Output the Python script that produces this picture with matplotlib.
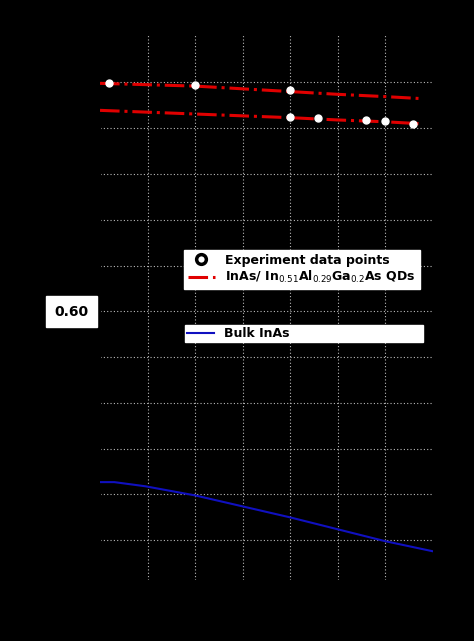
import matplotlib
matplotlib.use("Agg")
import matplotlib.pyplot as plt
from matplotlib.lines import Line2D

# values in grid units (x grid every 1, y grid every 1)
qd_upper_x = [0.0, 1.0, 2.0, 3.0, 4.0, 5.0, 6.0, 6.7]
qd_upper_y = [10.98, 10.95, 10.92, 10.86, 10.8, 10.74, 10.69, 10.65]
qd_lower_x = [0.0, 1.0, 2.0, 3.0, 4.0, 5.0, 6.0, 6.7]
qd_lower_y = [10.39, 10.35, 10.31, 10.27, 10.23, 10.18, 10.14, 10.1]
exp_x = [0.19, 2.0, 4.0, 4.0, 4.59, 5.6, 6.0, 6.58]
exp_y = [10.98, 10.95, 10.84, 10.24, 10.22, 10.18, 10.15, 10.1]
bulk_x = [0.0, 0.3, 0.95, 2.0, 3.0, 4.0, 5.0, 6.0, 7.0]
bulk_y = [2.27, 2.27, 2.18, 1.98, 1.74, 1.5, 1.24, 0.98, 0.76]

fig = plt.figure(figsize=(4.74, 6.41), dpi=100, facecolor="black")
ax = fig.add_axes([0.211, 0.095, 0.702, 0.85], facecolor="black")
ax.set_xlim(0, 7)
ax.set_ylim(0.13, 12.03)
ax.set_xticks(range(1, 7))
ax.set_yticks(range(1, 12))
ax.tick_params(colors="black", labelleft=False, labelbottom=False)
for s in ax.spines.values():
    s.set_color("black")
ax.grid(True, color="#bbbbbb", linestyle=(0, (1, 2)), linewidth=0.8)

ax.plot(qd_upper_x, qd_upper_y, color="#e00000", lw=2.2, ls="-.", zorder=3)
ax.plot(qd_lower_x, qd_lower_y, color="#e00000", lw=2.2, ls="-.", zorder=3)
ax.plot(exp_x, exp_y, "o", color="white", ms=5, ls="none", zorder=4)
ax.plot(bulk_x, bulk_y, color="#1010c0", lw=1.5, zorder=3)

h1 = [Line2D([], [], marker="o", ls="none", mfc="white", mec="black", mew=2.5, ms=7),
      Line2D([], [], color="#e00000", lw=2.2, ls="-.")]
leg1 = ax.legend(h1, ["Experiment data points",
                      r"InAs/ In$_{0.51}$Al$_{0.29}$Ga$_{0.2}$As QDs"],
                 loc="upper left", bbox_to_anchor=(0.252, 0.517, 0.709, 0.089),
                 mode="expand", frameon=True,
                 fancybox=False, edgecolor="white", facecolor="white", framealpha=1,
                 prop={"weight": "bold", "size": 9}, handlelength=2.2,
                 borderpad=0.3, labelspacing=0.2, borderaxespad=0)
ax.add_artist(leg1)
h2 = [Line2D([], [], color="#1010c0", lw=1.5)]
ax.legend(h2, ["Bulk InAs"], loc="upper left",
          bbox_to_anchor=(0.255, 0.431, 0.715, 0.037), mode="expand",
          frameon=True, fancybox=False, edgecolor="white", facecolor="white",
          framealpha=1, prop={"weight": "bold", "size": 9}, handlelength=2.2,
          borderpad=0.15, borderaxespad=0)

fig.text(0.151, 0.514, "0.60", ha="center", va="center", fontsize=10,
         fontweight="bold", color="black",
         bbox=dict(boxstyle="square,pad=0.6", fc="white", ec="white"))

fig.savefig("out.png", facecolor="black")
